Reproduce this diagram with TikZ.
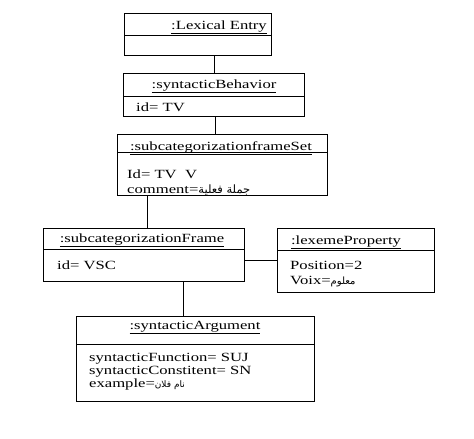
\documentclass[tikz,border=0pt]{standalone}
\usepackage{fontspec}
\setmainfont{Liberation Serif}[FakeStretch=1.33]
\newfontfamily\arabicfont[Script=Arabic]{DejaVu Sans}
\TeXXeTstate=1
\usetikzlibrary{positioning}
\newcommand{\ar}[2][9]{{\arabicfont\fontsize{#1}{10}\selectfont\beginR #2\endR}}

\begin{document}
\begin{tikzpicture}[x=1pt,y=-1pt,
  classbox/.style={draw, line width=.8pt, anchor=north west, inner sep=0pt},
  title/.style={anchor=base, inner sep=0pt, font=\fontsize{12.5}{15}\selectfont},
  attr/.style={anchor=base west, inner sep=0pt, font=\fontsize{12.5}{15}\selectfont}]
\useasboundingbox (0,0) rectangle (474,439);
% boxes
\node[classbox, minimum width=147pt, minimum height=42pt] (lex) at (124,13) {};
\draw[line width=.8pt] ([yshift=-22pt]lex.north west) -- ([yshift=-22pt]lex.north east);
\node[title] (lextitle) at (219,29) {\underline{:Lexical Entry}};

\node[classbox, minimum width=181pt, minimum height=43pt] (beh) at (123,73) {};
\draw[line width=.8pt] ([yshift=-23pt]beh.north west) -- ([yshift=-23pt]beh.north east);
\node[title] (behtitle) at (214,88) {\underline{:syntacticBehavior}};
\node[attr] (behid) at (136,111) {id= TV};

\node[classbox, minimum width=210pt, minimum height=61pt] (set) at (117,134) {};
\draw[line width=.8pt] ([yshift=-18pt]set.north west) -- ([yshift=-18pt]set.north east);
\node[title] (settitle) at (221,150) {\underline{:subcategorizationframeSet}};
\node[attr] (setid) at (127,178) {Id= TV\ \ V};
\node[attr] (setcom) at (127,193) {comment=\ar[11.5]{جملة فعلية}};

\node[classbox, minimum width=201pt, minimum height=53pt] (frame) at (43,228) {};
\draw[line width=.8pt] ([yshift=-21pt]frame.north west) -- ([yshift=-21pt]frame.north east);
\node[title] (frametitle) at (142,242) {\underline{:subcategorizationFrame}};
\node[attr] (frameid) at (57,269) {id= VSC};

\node[classbox, minimum width=157pt, minimum height=64pt] (lexeme) at (277,228) {};
\draw[line width=.8pt] ([yshift=-22pt]lexeme.north west) -- ([yshift=-22pt]lexeme.north east);
\node[title] (lexemetitle) at (346,244) {\underline{:lexemeProperty}};
\node[attr] (lexemepos) at (290,269) {Position=2};
\node[attr] (lexemevoix) at (290,284) {Voix=\ar[10]{معلوم}};

\node[classbox, minimum width=238pt, minimum height=85pt] (arg) at (76,316) {};
\draw[line width=.8pt] ([yshift=-28pt]arg.north west) -- ([yshift=-28pt]arg.north east);
\node[title] (argtitle) at (195,329) {\underline{:syntacticArgument}};
\node[attr] (argfun) at (89,361) {syntacticFunction= SUJ};
\node[attr] (argcon) at (89,374) {syntacticConstitent= SN};
\node[attr] (argex) at (89,387) {example=\ar[9]{نام فلان}};

% links
\draw[line width=.8pt] (beh.north) -- (beh.north |- lex.south);
\draw[line width=.8pt] ([xshift=1pt]beh.south) -- ([xshift=1pt]beh.south |- set.north);
\coordinate (fs) at ([xshift=3.5pt]frame.north);
\draw[line width=.8pt] (fs) -- (fs |- set.south);
\draw[line width=.8pt] (lexeme.west) -- (lexeme.west -| frame.east);
\coordinate (fa) at ([xshift=39.5pt]frame.south);
\draw[line width=.8pt] (fa) -- (fa |- arg.north);
\end{tikzpicture}
\end{document}
